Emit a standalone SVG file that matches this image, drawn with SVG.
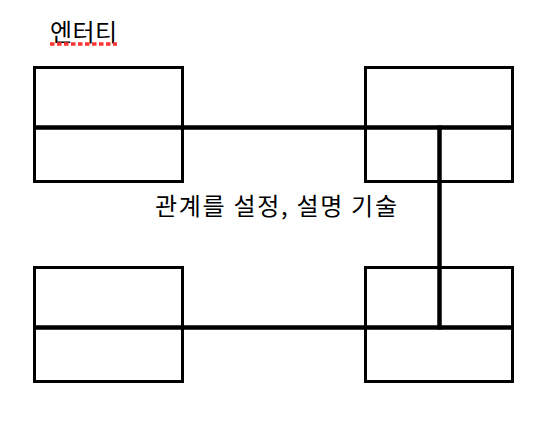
<svg xmlns="http://www.w3.org/2000/svg" width="538" height="424" viewBox="0 0 538 424">
<style>
.box{fill:none;stroke:#000;stroke-width:3}
.conn{stroke:#000;stroke-width:4.5;fill:none;stroke-linecap:butt}
.t{font-family:"Noto Sans CJK KR","Noto Sans",sans-serif;fill:#000}
</style>
<rect width="538" height="424" fill="#fff"/>
<g id="title">
<text class="t" x="50" y="40.5" font-size="24" textLength="67" lengthAdjust="spacing">엔터티</text>
<line x1="50" y1="44" x2="117" y2="44" stroke="#f33" stroke-width="3.5" stroke-dasharray="4.5 2.5"/>
</g>
<g id="entity-top-left"><rect class="box" x="34.5" y="67.5" width="148" height="114"/></g>
<g id="entity-top-right"><rect class="box" x="365.5" y="67.5" width="147" height="114"/></g>
<g id="entity-bottom-left"><rect class="box" x="34.5" y="267.5" width="148" height="114"/></g>
<g id="entity-bottom-right"><rect class="box" x="365.5" y="267.5" width="147" height="114"/></g>
<g id="connectors">
<line class="conn" x1="33" y1="127.5" x2="514" y2="127.5"/>
<line class="conn" x1="33" y1="327.5" x2="514" y2="327.5"/>
<line class="conn" x1="439.5" y1="125.5" x2="439.5" y2="329.5"/>
</g>
<g id="label">
<text class="t" x="155" y="215" font-size="24" textLength="242" lengthAdjust="spacing">관계를 설정, 설명 기술</text>
</g>
</svg>
